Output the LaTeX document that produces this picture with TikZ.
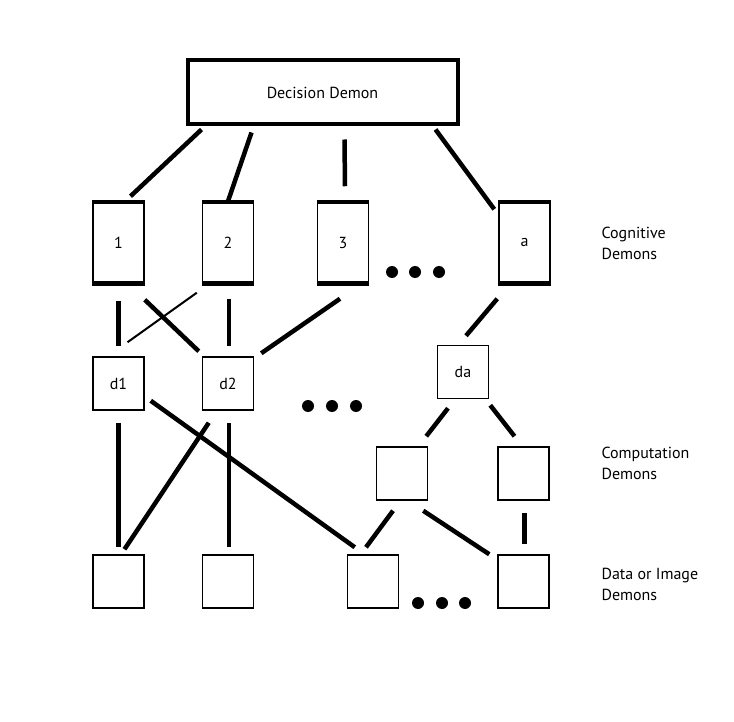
\documentclass[tikz,border=0pt]{standalone}
\usepackage{fontspec}
\setmainfont{PT Sans}
\usetikzlibrary{calc}
\tikzstyle{cog} = [rectangle, draw=black, line width=1.5pt, minimum width=51pt, minimum height=80pt, inner sep=0pt, font=\fontsize{16}{19}\selectfont]
\tikzstyle{box} = [rectangle, draw=black, line width=1.5pt, minimum width=51pt, minimum height=53pt, inner sep=0pt, font=\fontsize{16}{19}\selectfont]
\tikzstyle{link} = [line width=4.5pt]
\tikzstyle{label} = [align=left, anchor=west, font=\fontsize{16}{21}\selectfont]

\begin{document}
\begin{tikzpicture}[x=1pt, y=-1pt]
  \useasboundingbox (0,0) rectangle (734,722);
  \node (dec) [rectangle, draw=black, line width=4pt, minimum width=270pt, minimum height=64pt, font=\fontsize{16}{19}\selectfont] at (322.5,92.5) {Decision Demon};

  % cognitive demons
  \node (c1) [cog] at (118.5,243) {1};
  \node (c2) [cog] at (228,243) {2};
  \node (c3) [cog] at (343,243) {3};
  \node (ca) [cog] at (524.5,243) {a};
  \foreach \n in {c1,c2,c3,ca} {
    \draw [line width=4.5pt] (\n.north west) -- (\n.north east);
    \draw [line width=4.5pt] (\n.south west) -- (\n.south east);
  }

  % features
  \node (d1) [box] at (118.5,383.5) {d1};
  \node (d2) [box] at (228,383.5) {d2};
  \node (da) [box] at (463,372) {da};

  % computation demons
  \node (p1) [box] at (402,473.5) {};
  \node (p2) [box] at (523.5,473.5) {};

  % data demons
  \node (i1) [box] at (118.5,581.5) {};
  \node (i2) [box] at (228,581.5) {};
  \node (i3) [box] at (373,581.5) {};
  \node (i4) [box] at (523.5,581.5) {};

  \foreach \x/\y in {392/272, 415/272, 439/272, 308/406, 332/406, 356/406, 418/603, 442/603, 465/603}
    \fill (\x,\y) circle (6pt);

  \draw [link] ($(dec.south west)+(16,3)$) -- ($(c1.north)+(12,-6)$);
  \draw [link] ($(dec.south west)+(66,6)$) -- ($(c2.north)+(0,-1)$);
  \draw [link] ($(dec.south)+(22,13)$) -- ($(c3.north)+(2,-16)$);
  \draw [link] ($(dec.south east)+(-24,3)$) -- ($(ca.north west)+(-4,7)$);

  \draw [link] ($(c1.south)+(0,17)$) -- ($(d1.north)+(0,-10)$);
  \draw [link] ($(c1.south east)+(0,16)$) -- ($(d2.north west)+(-3,-5)$);
  \draw [line width=2pt] ($(c2.south west)+(-5,9)$) -- ($(d1.north)+(9,-14)$);
  \draw [link] ($(c2.south)+(1,15)$) -- ($(d2.north)+(1,-10)$);
  \draw [link] ($(c3.south)+(-3,15)$) -- ($(d2.north east)+(7,-3)$);
  \draw [link] ($(ca.south west)+(-1,15)$) -- ($(da.north)+(3,-9)$);

  \draw [link] ($(d1.south)+(0,12)$) -- ($(i1.north)+(0,-7)$);
  \draw [link] ($(d1.south east)+(6,-10)$) -- ($(i3.north west)+(8,-7)$);
  \draw [link] ($(d2.south west)+(7,12)$) -- ($(i1.north)+(6,-5)$);
  \draw [link] ($(d2.south)+(1,12)$) -- ($(i2.north)+(1,-7)$);

  \draw [link] ($(da.south)+(-15,9)$) -- ($(p1.north east)+(-2,-10)$);
  \draw [link] ($(da.south east)+(1,6)$) -- ($(p2.north)+(-9,-10)$);
  \draw [link] ($(p1.south)+(-9,10)$) -- ($(i3.north)+(-7,-7)$);
  \draw [link] ($(p1.south east)+(-5,10)$) -- ($(i4.north west)+(-8,0)$);
  \draw [link] ($(p2.south)+(1,12)$) -- ($(i4.north)+(1,-10)$);

  \node [label] at (598,243) {Cognitive\\Demons};
  \node [label] at (598,463) {Computation\\Demons};
  \node [label] at (598,584.5) {Data or Image\\Demons};
\end{tikzpicture}
\end{document}
